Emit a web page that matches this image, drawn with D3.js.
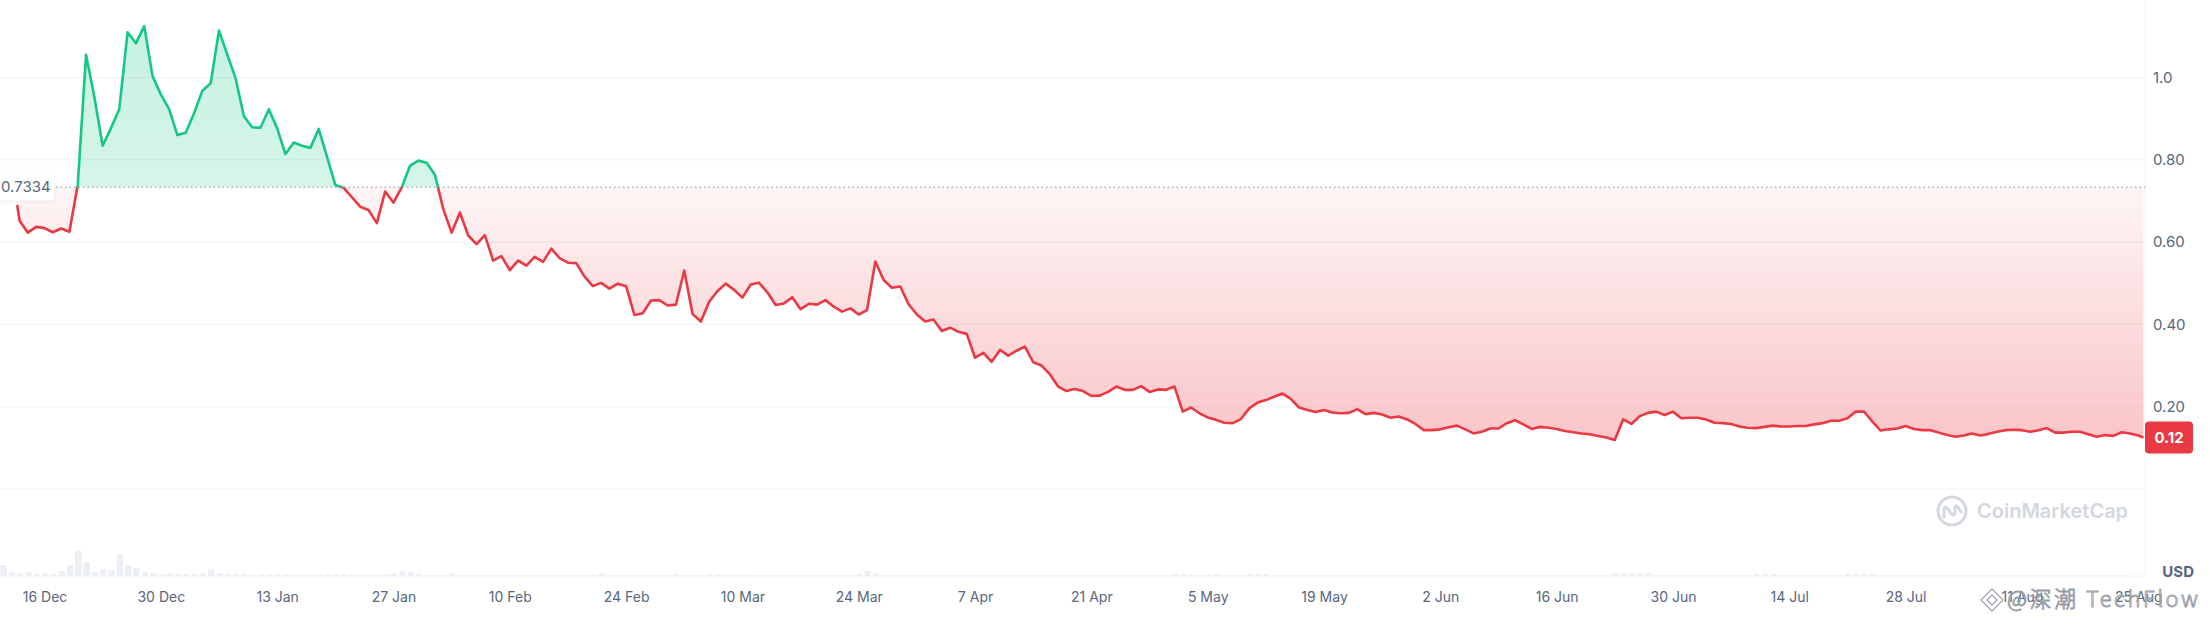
<!DOCTYPE html>
<html><head><meta charset="utf-8">
<script src="https://cdn.jsdelivr.net/npm/d3@7"></script>
<style>
html,body{margin:0;padding:0;background:#fff;}
svg{display:block;font-family:Inter,"Noto Sans",sans-serif;}
</style></head><body>
<svg id="c" width="2210" height="628"></svg>
<script>
// ---------- DATA ----------
const startDate = "2024-12-13";            // first daily point
const firstPoint = {date: "2024-12-12T17:00:00Z", price: 0.690};
const lastPoint  = {date: "2025-08-25T15:00:00Z", price: 0.125};
const prices = [
0.652,0.623,0.637,0.634,0.624,0.633,0.625,0.739,1.055,0.953,
0.834,0.877,0.923,1.110,1.083,1.125,1.004,0.959,0.923,0.860,
0.866,0.913,0.968,0.986,1.114,1.056,0.998,0.906,0.879,0.878,
0.923,0.877,0.814,0.842,0.834,0.829,0.875,0.808,0.739,0.732,
0.709,0.686,0.678,0.646,0.723,0.696,0.733,0.786,0.798,0.793,
0.763,0.680,0.623,0.672,0.616,0.595,0.617,0.555,0.566,0.532,
0.555,0.543,0.564,0.552,0.584,0.561,0.550,0.549,0.516,0.493,
0.501,0.487,0.499,0.493,0.423,0.427,0.458,0.459,0.446,0.448,
0.531,0.425,0.407,0.455,0.481,0.499,0.484,0.465,0.497,0.501,
0.478,0.447,0.451,0.466,0.437,0.450,0.448,0.459,0.443,0.431,
0.439,0.424,0.435,0.553,0.508,0.489,0.492,0.449,0.424,0.407,
0.412,0.384,0.392,0.382,0.377,0.319,0.331,0.309,0.338,0.324,
0.336,0.346,0.308,0.300,0.279,0.249,0.238,0.243,0.238,0.226,
0.227,0.236,0.249,0.241,0.241,0.250,0.236,0.242,0.241,0.249,
0.188,0.198,0.184,0.174,0.168,0.161,0.160,0.170,0.196,0.210,
0.216,0.224,0.232,0.219,0.198,0.192,0.187,0.192,0.186,0.184,
0.185,0.194,0.182,0.185,0.181,0.173,0.176,0.169,0.158,0.143,
0.143,0.145,0.150,0.154,0.145,0.135,0.139,0.147,0.147,0.160,
0.167,0.157,0.146,0.151,0.149,0.146,0.141,0.138,0.135,0.133,
0.129,0.125,0.119,0.169,0.158,0.177,0.185,0.188,0.180,0.188,
0.172,0.173,0.173,0.169,0.161,0.160,0.158,0.152,0.149,0.148,
0.151,0.154,0.152,0.152,0.153,0.153,0.157,0.160,0.166,0.166,
0.172,0.188,0.188,0.164,0.142,0.145,0.147,0.153,0.146,0.143,
0.143,0.137,0.131,0.127,0.130,0.135,0.130,0.134,0.139,0.143,
0.144,0.143,0.139,0.143,0.148,0.137,0.137,0.139,0.139,0.133,
0.127,0.131,0.129,0.138,0.135,0.130
];
const volumes = [
11,4,3,4,2,3,2,5,11,25,14,4,7,6,22,11,8,4,3,2,
3,2,2,2,3,7,3,2,2,2,1.5,1.5,1.5,1.5,1.5,1.5,1.5,1.5,1.5,1.5,
1.5,1.5,1.5,1.5,1.5,1.5,1.5,3,5,4,2,1,1,1,3,1,1,1,1,1,
1,1,1,1,1,1,1,1,1,1,1,1,3,1,1,1,1,1,1,1,
1,2,1,1,1,1.5,1.5,1.5,1.5,1.5,1.5,1,1,1,1,1,1,1,1,1,
1,1,1,2,5,3,1,1,1,1,1,1,1,1,1,1,1,1,1,1,
1,1,1,1,1,1,1,1,1,1,1,1,1,1,1,1,1,1,1,1,
1,2,2,1,1,1,2,1,1,1,2,2,2,1,1,1,1,1,1,1,
1,1,1,1,1,1,1,1,1,1,1,1,1,1,1,1,1,1,1,1,
1,1,1,1,1,1,1,1,1,1,1,1,1,1,3,3,3,3,3,1,
1,1,1,1,1,1,1,1,1,1,1,2,2,2,1,1,1,1,1,1,
1,1,2,2,2,2,1,1,1,1,1,1,1,1,1,1,1,1,1,1,
1,1,1,1,1,1,1,1,1,1,1,1,1,1,1,1
];
const baselinePrice = 0.7334;
const baselineLabel = "0.7334";
const currentLabel = "0.12";
const gridValues   = [0, 0.2, 0.4, 0.6, 0.8, 1.0];
const yTickValues  = [0.2, 0.4, 0.6, 0.8, 1.0];
const yTickLabels  = ["0.20", "0.40", "0.60", "0.80", "1.0"];
const xTickDates   = ["2024-12-16","2024-12-30","2025-01-13","2025-01-27","2025-02-10","2025-02-24",
                      "2025-03-10","2025-03-24","2025-04-07","2025-04-21","2025-05-05","2025-05-19",
                      "2025-06-02","2025-06-16","2025-06-30","2025-07-14","2025-07-28","2025-08-11","2025-08-25"];
const xTickLabels  = ["16 Dec","30 Dec","13 Jan","27 Jan","10 Feb","24 Feb","10 Mar","24 Mar","7 Apr",
                      "21 Apr","5 May","19 May","2 Jun","16 Jun","30 Jun","14 Jul","28 Jul","11 Aug","25 Aug"];
const currencyLabel = "USD";

// ---------- BUILD ----------
const day0 = new Date(startDate + "T00:00:00Z");
const daily = prices.map((p, i) => ({date: d3.utcDay.offset(day0, i), price: p}));
const series = [{date: new Date(firstPoint.date), price: firstPoint.price}, ...daily,
                {date: new Date(lastPoint.date), price: lastPoint.price}];
const vols = volumes.map((v, i) => ({date: d3.utcDay.offset(day0, i), vol: v}));

const W = 2210, H = 628, plotRight = 2145, volBase = 576;
const svg = d3.select("#c");

const x = d3.scaleUtc()
  .domain([new Date("2024-12-16T00:00:00Z"), new Date("2025-07-28T00:00:00Z")])
  .range([44.5, 1905.6]);
const y = d3.scaleLinear().domain([0, 1]).range([489, 77.5]);
const vy = d3.scaleLinear().domain([0, 25]).range([volBase, volBase - 25]);
const yBase = y(baselinePrice);

const defs = svg.append("defs");
defs.append("clipPath").attr("id", "above").append("rect")
  .attr("x", 0).attr("y", 0).attr("width", plotRight).attr("height", yBase);
defs.append("clipPath").attr("id", "below").append("rect")
  .attr("x", 0).attr("y", yBase).attr("width", plotRight).attr("height", H - yBase);
const gr = defs.append("linearGradient").attr("id", "redGrad")
  .attr("gradientUnits", "userSpaceOnUse").attr("x1", 0).attr("x2", 0)
  .attr("y1", yBase).attr("y2", y(d3.min(prices)));
gr.append("stop").attr("offset", 0).attr("stop-color", "#ea3943").attr("stop-opacity", 0.05);
gr.append("stop").attr("offset", 1).attr("stop-color", "#ea3943").attr("stop-opacity", 0.29);
const gg = defs.append("linearGradient").attr("id", "greenGrad")
  .attr("gradientUnits", "userSpaceOnUse").attr("x1", 0).attr("x2", 0)
  .attr("y1", y(d3.max(prices))).attr("y2", yBase);
gg.append("stop").attr("offset", 0).attr("stop-color", "#16c784").attr("stop-opacity", 0.24);
gg.append("stop").attr("offset", 1).attr("stop-color", "#16c784").attr("stop-opacity", 0.18);
const sh = defs.append("filter").attr("id", "shadow").attr("x", "-30%").attr("y", "-50%").attr("width", "160%").attr("height", "200%");
sh.append("feDropShadow").attr("dx", 0).attr("dy", 1).attr("stdDeviation", 2).attr("flood-color", "#000").attr("flood-opacity", 0.08);

// grid
svg.append("g").selectAll("line").data(gridValues).join("line")
  .attr("x1", 0).attr("x2", plotRight).attr("y1", d => y(d)).attr("y2", d => y(d))
  .attr("stroke", "#eff2f5").attr("stroke-width", 1);
// frame lines
svg.append("line").attr("x1", plotRight).attr("x2", plotRight).attr("y1", 0).attr("y2", volBase)
  .attr("stroke", "#eff2f5");
svg.append("line").attr("x1", 0).attr("x2", plotRight).attr("y1", volBase).attr("y2", volBase)
  .attr("stroke", "#eff2f5");

// volume bars
svg.append("g").selectAll("rect").data(vols).join("rect")
  .attr("x", d => x(d.date) - 16 - 3.2).attr("width", 6.4)
  .attr("y", d => vy(d.vol)).attr("height", d => volBase - vy(d.vol))
  .attr("rx", 1.5).attr("fill", "#eceff3");

// areas
const area = d3.area().x(d => x(d.date)).y0(yBase).y1(d => y(d.price));
svg.append("path").datum(series).attr("d", area).attr("fill", "url(#greenGrad)").attr("clip-path", "url(#above)");
svg.append("path").datum(series).attr("d", area).attr("fill", "url(#redGrad)").attr("clip-path", "url(#below)");

// baseline dotted
svg.append("line").attr("x1", 56).attr("x2", plotRight).attr("y1", yBase).attr("y2", yBase)
  .attr("stroke", "#a6b0c3").attr("stroke-width", 1.5).attr("stroke-dasharray", "1.5,3");

// lines
const line = d3.line().x(d => x(d.date)).y(d => y(d.price));
svg.append("path").datum(series).attr("d", line).attr("fill", "none").attr("stroke", "#16c784")
  .attr("stroke-width", 2.6).attr("stroke-linejoin", "round").attr("clip-path", "url(#above)");
svg.append("path").datum(series).attr("d", line).attr("fill", "none").attr("stroke", "#ea3943")
  .attr("stroke-width", 2.6).attr("stroke-linejoin", "round").attr("clip-path", "url(#below)");

// baseline label
svg.append("rect").attr("x", -4).attr("y", yBase - 13).attr("width", 58).attr("height", 26).attr("rx", 4)
  .attr("fill", "#fff").attr("filter", "url(#shadow)");
svg.append("text").attr("x", 1).attr("y", yBase).attr("dy", "0.35em").text(baselineLabel)
  .attr("fill", "#58667e").attr("font-size", 15);

// y axis
const yAxis = d3.axisRight(y).tickValues(yTickValues)
  .tickFormat((d, i) => yTickLabels[i]).tickSize(0).tickPadding(8);
const gy = svg.append("g").attr("transform", `translate(${plotRight},0)`).call(yAxis);
gy.select(".domain").remove();
gy.selectAll("text").attr("fill", "#58667e").attr("font-size", 15).attr("font-family", "Inter,'Noto Sans',sans-serif");

// x axis
const xAxis = d3.axisBottom(x).tickValues(xTickDates.map(s => new Date(s + "T00:00:00Z")))
  .tickFormat((d, i) => xTickLabels[i]).tickSize(0).tickPadding(3);
const gx = svg.append("g").attr("transform", `translate(0,589)`).call(xAxis);
gx.select(".domain").remove();
gx.selectAll("text").attr("fill", "#58667e").attr("font-size", 14).attr("font-family", "Inter,'Noto Sans',sans-serif");

// current price tag
const lastY = y(lastPoint.price);
svg.append("rect").attr("x", plotRight).attr("y", lastY - 16).attr("width", 48).attr("height", 32).attr("rx", 4)
  .attr("fill", "#ea3943");
svg.append("text").attr("x", plotRight + 24).attr("y", lastY).attr("dy", "0.35em").attr("text-anchor", "middle")
  .attr("fill", "#fff").attr("font-size", 15).attr("font-weight", 700).text(currentLabel);

// USD label
svg.append("text").attr("x", 2194).attr("y", 572).attr("dy", "0.35em").attr("text-anchor", "end")
  .attr("fill", "#58667e").attr("font-size", 15).attr("font-weight", 700).text(currencyLabel);

// CoinMarketCap watermark
const wm = svg.append("g").attr("transform", "translate(1952,511)");
wm.append("circle").attr("r", 14).attr("fill", "none").attr("stroke", "#d3d8df").attr("stroke-width", 3);
wm.append("path").attr("d", "M-8,6 V-1 Q-8,-6 -4.5,-2.5 L-0.5,3 Q2,6 3,1 V-4 Q4,-7 6.5,-3 L9,1")
  .attr("fill", "none").attr("stroke", "#d3d8df").attr("stroke-width", 3).attr("stroke-linecap", "round").attr("stroke-linejoin", "round");
svg.append("text").attr("x", 1977).attr("y", 511).attr("dy", "0.35em").attr("font-size", 20).attr("font-weight", 600)
  .attr("fill", "#d3d8df").text("CoinMarketCap");

// TechFlow watermark
const tw = svg.append("g").attr("transform", "translate(1992,600)").attr("fill", "none").attr("stroke", "#a3a9b2").attr("stroke-width", 1.4);
tw.append("path").attr("d", "M0,-11 L11,0 L0,11 L-11,0 Z");
tw.append("path").attr("d", "M0,-5 L5,0 L0,5 L-5,0 Z");
svg.append("text").attr("x", 2007).attr("y", 607).attr("font-size", 22).attr("font-weight", 300)
  .attr("letter-spacing", 2.5)
  .attr("font-family", "'Noto Sans CJK SC','Noto Sans',sans-serif")
  .attr("fill", "rgba(255,255,255,0.5)").attr("stroke", "#959ca6").attr("stroke-width", 0.9)
  .text("@深潮 TechFlow");
</script>
</body></html>
